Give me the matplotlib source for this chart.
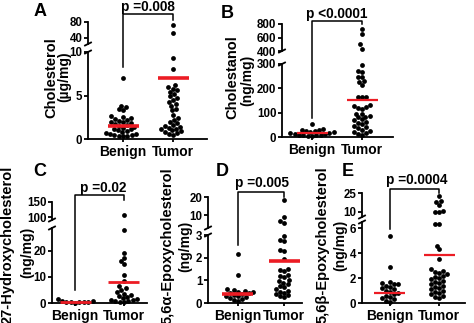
import numpy as np
import matplotlib
matplotlib.use("Agg")
import matplotlib.pyplot as plt
from matplotlib.lines import Line2D

plt.rcParams['font.family'] = ['Liberation Sans', 'DejaVu Sans']
plt.rcParams['font.weight'] = 'bold'

W, H = 474, 323

groups = ["Benign", "Tumor"]

# ---------------- data ----------------
chol_benign = [7.0, 3.8, 3.7, 3.4, 3.3, 2.6, 2.5, 2.4, 2.3, 2.2, 2.1, 2.0, 1.9, 1.8, 1.7, 1.6,
               1.5, 1.4, 1.3, 1.2, 1.1, 1.0, 0.9, 0.8, 0.7, 0.6, 0.6, 0.5, 0.5, 0.4, 0.4, 0.3]
chol_tumor = [72, 52, 9.3, 8.0, 6.2, 6.0, 5.8, 5.6, 5.4, 5.2, 4.9, 4.7, 4.5, 4.2, 4.0, 3.8,
              3.5, 3.3, 2.8, 2.4, 2.2, 2.0, 1.8, 1.6, 1.5, 1.4, 1.3, 1.2, 1.1, 1.0, 0.9,
              0.8, 0.7, 0.6, 0.5]
chol_means = [1.5, 7.0]

cstn_benign = [55, 32, 30, 28, 26, 25, 22, 20, 18, 16, 14, 12, 10, 9, 8, 7, 6, 5]
cstn_tumor = [727, 655, 497, 437, 295, 271, 267, 248, 247, 230, 226, 214, 165, 164, 163, 131,
              128, 123, 118, 115, 96, 95, 86, 84, 82, 72, 68, 62, 58, 52, 46, 40, 35, 30,
              26, 22, 18, 14, 10]
cstn_means = [17, 152]

hoc_benign = [1.5, 0.8, 0.6, 0.5, 0.4, 0.3, 0.3, 0.2, 0.1]
hoc_tumor = [106, 28, 19.1, 17.2, 16.1, 14.9, 10.7, 8.4, 6.5, 5.7, 5.0, 4.2, 3.6, 3.0, 2.6,
             2.2, 1.8, 1.5, 1.2, 1.0, 0.8, 0.6, 0.4, 0.2]
hoc_means = [0.5, 8.2]

aepx_benign = [2.15, 1.25, 0.6, 0.58, 0.55, 0.5, 0.47, 0.45, 0.42, 0.4, 0.36, 0.33, 0.3,
               0.26, 0.22, 0.18, 0.14, 0.1]
aepx_tumor = [18.4, 9.0, 6.8, 5.8, 2.95, 2.8, 2.75, 2.35, 2.3, 1.95, 1.5, 1.45, 1.4, 1.25, 1.2,
              1.15, 1.0, 0.95, 0.9, 0.82, 0.75, 0.7, 0.62, 0.55, 0.5, 0.45, 0.4, 0.35, 0.3,
              0.25]
aepx_means = [0.38, 1.86]

bepx_benign = [5.35, 2.85, 1.7, 1.6, 1.5, 1.5, 1.4, 1.3, 1.2, 1.1, 1.0, 0.9, 0.8, 0.7, 0.6,
               0.5, 0.4, 0.3, 0.2, 0.1]
bepx_tumor = [22.6, 18.7, 17.9, 15.5, 10.8, 10.0, 10.0, 6.3, 6.3, 4.6, 4.3, 3.5, 2.7, 2.6, 2.5,
              2.4, 2.3, 2.2, 2.1, 2.0, 1.9, 1.8, 1.7, 1.6, 1.5, 1.4, 1.3, 1.2, 1.1, 1.0, 0.9,
              0.8, 0.7, 0.6, 0.5, 0.4]
bepx_means = [0.82, 3.84]

letters = ["A", "B", "C", "D", "E"]
ylabels = [("Cholesterol", "(\u00b5g/mg)"), ("Cholestanol", "(ng/mg)"),
           ("27-Hydroxycholesterol", "(ng/mg)"), ("5,6\u03b1-Epoxycholesterol", "(ng/mg)"),
           ("5,6\u03b2-Epoxycholesterol", "(ng/mg)")]
pvals = ["p =0.008", "p <0.0001", "p =0.02", "p =0.005", "p =0.0004"]
lower_ticks = [[0, 5, 10], [0, 100, 200, 300], [0, 10, 20], [0, 1, 2, 3], [0, 2, 4, 6]]
upper_ticks = [[40, 80], [400, 600, 800], [100, 150], [10, 20], [10, 25]]
lower_lims = [(0, 10), (0, 300), (0, 28.8), (0, 3), (0, 6.5)]
upper_lims = [(25, 80), (400, 800), (90, 150), (3, 20), (6, 25)]
data = [(chol_benign, chol_tumor), (cstn_benign, cstn_tumor), (hoc_benign, hoc_tumor),
        (aepx_benign, aepx_tumor), (bepx_benign, bepx_tumor)]
means = [chol_means, cstn_means, hoc_means, aepx_means, bepx_means]

# ---------------- layout (pixel coords, top-left origin) ----------------
layout = [
    dict(x0=88, x1=207, xlim=(0.30, 2.68), lo=(52, 139), up=(22, 44), lw=2.6,
         letter=(40, 12), p=(148, 7), br=(14, 67, 20),
         yl1=(51, 78), yl2=(64, 77)),
    dict(x0=282, x1=393, xlim=(0.40, 2.62), lo=(64, 137), up=(24, 51), lw=1.6,
         letter=(227, 13), p=(337, 14), br=(21, 118, 24),
         yl1=(232, 77), yl2=(247, 80)),
    dict(x0=52, x1=147, xlim=(0.53, 2.47), lo=(228, 303), up=(202, 220), lw=2.0,
         letter=(40, 172), p=(103, 188), br=(195, 290, 200),
         yl1=(8, 245), yl2=(27, 252)),
    dict(x0=208, x1=302, xlim=(0.35, 2.39), lo=(235, 303), up=(197, 228), lw=2.6,
         letter=(222, 172), p=(262, 183), br=(192, 245, 197),
         yl1=(168, 246), yl2=(185, 246)),
    dict(x0=362, x1=465, xlim=(0.43, 2.53), lo=(222, 303), up=(193, 217), lw=1.6,
         letter=(348, 172), p=(417, 180), br=(189, 229, 193),
         yl1=(323, 245), yl2=(340, 245)),
]

RED = '#ec1c24'
DOT = 4.8  # px diameter
SPINE_LW = 1.3


def fr(x0, y0, x1, y1):
    return [x0 / W, 1 - y1 / H, (x1 - x0) / W, (y1 - y0) / H]


def fx(x):
    return x / W


def fy(y):
    return 1 - y / H


def swarm_offsets(ys, d):
    ys = np.asarray(ys, float)
    order = np.argsort(ys, kind='stable')
    placed = []
    xs = np.zeros(len(ys))
    for idx in order:
        y = ys[idx]
        near = [(px, py) for px, py in placed if abs(py - y) < d]
        cands = [0.0]
        for px, py in near:
            dx = np.sqrt(d * d - (py - y) ** 2)
            cands += [px - dx, px + dx]
        cands = sorted(cands, key=lambda c: (abs(c), c))
        for c in cands:
            if all((c - px) ** 2 + (y - py) ** 2 >= d * d - 1e-6 for px, py in near):
                xs[idx] = c
                break
        placed.append((xs[idx], y))
    return xs


fig = plt.figure(figsize=(W / 100, H / 100), dpi=100)

for k in range(5):
    L = layout[k]
    lo = fig.add_axes(fr(L['x0'], L['lo'][0], L['x1'], L['lo'][1]))
    up = fig.add_axes(fr(L['x0'], L['up'][0], L['x1'], L['up'][1]))
    for ax, lim, ticks in ((lo, lower_lims[k], lower_ticks[k]), (up, upper_lims[k], upper_ticks[k])):
        ax.set_xlim(*L['xlim'])
        ax.set_ylim(*lim)
        ax.set_yticks(ticks)
        ax.set_facecolor('none')
        for s in ('top', 'right'):
            ax.spines[s].set_visible(False)
        for s in ('left', 'bottom'):
            ax.spines[s].set_linewidth(SPINE_LW)
        ax.tick_params(axis='y', direction='out', length=3, width=SPINE_LW, labelsize=8.3, pad=1)
    up.spines['bottom'].set_visible(False)
    up.set_xticks([])
    lo.set_xticks([1, 2])
    lo.set_xticklabels(groups, fontsize=10, fontweight='bold')
    lo.tick_params(axis='x', direction='out', length=2.5, width=SPINE_LW, pad=2)

    # beeswarm
    for i, vals in enumerate(data[k]):
        vals = np.asarray(vals, float)
        in_lo = vals <= lower_lims[k][1]
        disp_y = np.array([(lo if il else up).transData.transform((i + 1, v))[1]
                           for v, il in zip(vals, in_lo)])
        cx = lo.transData.transform((i + 1, 0))[0]
        offs = swarm_offsets(disp_y, DOT * 0.92)
        xd = np.array([lo.transData.inverted().transform((cx + o, 0))[0] for o in offs])
        s = (DOT * 72 / 100) ** 2
        lo.scatter(xd[in_lo], vals[in_lo], s=s, c='black', linewidths=0, clip_on=False, zorder=3)
        up.scatter(xd[~in_lo], vals[~in_lo], s=s, c='black', linewidths=0, clip_on=False, zorder=3)
        ppu = (L['x1'] - L['x0']) / (L['xlim'][1] - L['xlim'][0])
        hw = 15.5 / ppu
        lo.plot([i + 1 - hw, i + 1 + hw], [means[k][i], means[k][i]], color=RED,
                lw=L['lw'], solid_capstyle='butt', zorder=4, clip_on=False)

    # break marks
    for yb in (L['up'][1], L['lo'][0]):
        fig.add_artist(Line2D([fx(L['x0'] - 3), fx(L['x0'] + 3)], [fy(yb + 1.5), fy(yb - 1.5)],
                              transform=fig.transFigure, color='black', lw=SPINE_LW))

    # bracket
    xb = lo.transData.transform((1, 0))[0]
    xt = lo.transData.transform((2, 0))[0]
    top, lleg, rleg = L['br']
    fig.add_artist(Line2D([xb / W, xb / W, xt / W, xt / W], [fy(lleg), fy(top), fy(top), fy(rleg)],
                          transform=fig.transFigure, color='black', lw=1.1))
    fig.text(fx(L['p'][0]), fy(L['p'][1]), pvals[k], ha='center', va='center',
             fontsize=9.8, fontweight='bold')
    fig.text(fx(L['letter'][0]), fy(L['letter'][1]), letters[k], ha='center', va='center',
             fontsize=13, fontweight='bold')
    fig.text(fx(L['yl1'][0]), fy(L['yl1'][1]), ylabels[k][0], rotation=90, ha='center',
             va='center', fontsize=10.5, fontweight='bold')
    fig.text(fx(L['yl2'][0]), fy(L['yl2'][1]), ylabels[k][1], rotation=90, ha='center',
             va='center', fontsize=10, fontweight='bold')

fig.savefig('out.png', dpi=100)
